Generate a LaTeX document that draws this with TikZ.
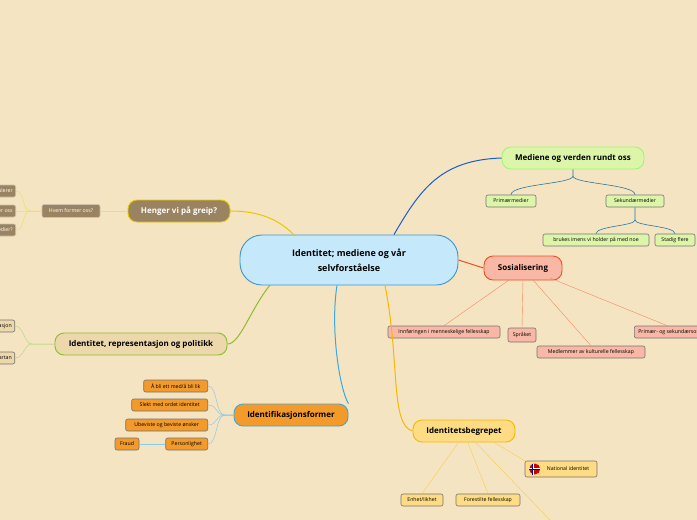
\documentclass[tikz,border=0pt]{standalone}
\usepackage{fontspec}
\setmainfont{Open Sans}
\usetikzlibrary{calc}
\begin{document}
\begin{tikzpicture}[x=1pt,y=-1pt,
 main/.style={draw,line width=0.9pt,rounded corners=9pt,font=\fontsize{8}{9}\selectfont\bfseries,inner sep=0pt},
 sub/.style={draw=#1,line width=0.6pt,rounded corners=2pt,font=\fontsize{5.2}{6}\selectfont,inner sep=0pt,minimum height=12},
 sub/.default={black!55},
 clip/.style={anchor=east,inner xsep=3pt}]
\useasboundingbox[fill={rgb,255:red,245;green,228;blue,194}] (0,0) rectangle (697,520);
\definecolor{cb}{RGB}{21,96,200}\definecolor{cs}{RGB}{240,80,32}\definecolor{ch}{RGB}{230,200,0}
\definecolor{cr}{RGB}{140,188,48}\definecolor{ci}{RGB}{58,169,224}\definecolor{cy}{RGB}{246,184,0}
\definecolor{fg}{RGB}{221,245,168}\definecolor{fs}{RGB}{249,184,165}\definecolor{fb}{RGB}{154,131,96}
\definecolor{fr}{RGB}{236,216,170}\definecolor{fo}{RGB}{243,154,42}\definecolor{fy}{RGB}{254,220,132}
% center
\node[main,draw={rgb,255:red,58;green,149;blue,213},fill={rgb,255:red,197;green,233;blue,251},rounded corners=22pt,minimum width=218,minimum height=50,align=center,font=\fontsize{9}{15}\selectfont\bfseries] (c) at (349,260) {Identitet; mediene og vår\\selvforståelse};
% Mediene
\node[main,draw=fg!70!green,fill=fg,minimum width=142,minimum height=22] (m) at (573,158) {Mediene og verden rundt oss};
\node[sub,fill=fg,minimum width=50] (m1) at (511,201) {Primærmedier};
\node[sub,fill=fg,minimum width=58] (m2) at (635,201) {Sekundærmedier};
\node[sub,fill=fg,minimum width=106] (m3) at (596,240) {brukes imens vi holder på med noe};
\node[sub,fill=fg,minimum width=40] (m4) at (675,240) {Stadig flere};
\draw[cb,line width=1pt] (c.north)++(45,0) .. controls (420,190) and (440,160) .. (m.west);
\draw[ci!70!black,line width=0.6pt] (m.south) -- (573,176) .. controls (573,184) and (511,184) .. (m1.north);
\draw[ci!70!black,line width=0.6pt] (573,176) .. controls (573,184) and (635,184) .. (m2.north);
\draw[ci!70!black,line width=0.6pt] (m2.south) -- (635,220) .. controls (635,226) and (596,226) .. (m3.north);
\draw[ci!70!black,line width=0.6pt] (635,220) .. controls (635,226) and (675,226) .. (m4.north);
% Sosialisering
\node[main,draw=cs,fill=fs,minimum width=78,minimum height=24] (s) at (523,268) {Sosialisering};
\node[sub,fill=fs,minimum width=112] (s1) at (444,332) {Innføringen i menneskelige fellesskap};
\node[sub,fill=fs,minimum width=28,minimum height=14] (s2) at (522,335) {Språket};
\node[sub,fill=fs,minimum width=108] (s3) at (591,352) {Medlemmer av kulturelle fellesskap};
\node[sub,fill=fs,anchor=west,inner xsep=4pt] (s4) at (634,332) {Primær- og sekundærsosialisering};
\draw[cs,line width=1pt] (c.east) -- (s.west);
\begin{scope}[cs!70,line width=0.4pt]
\draw (509,280) -- (s1.north); \draw (523,280) -- (s2.north); \draw (533,280) -- (s3.north); \draw (550,278) -- (668,326);
\end{scope}
% Henger
\node[main,draw=ch,fill=fb,text=white,minimum width=102,minimum height=22] (h) at (179,211) {Henger vi på greip?};
\node[sub=fb!50,fill=fb,text=white,minimum width=58,minimum height=13] (h1) at (71,211) {Hvem former oss?};
\node[sub=fb!50,fill=fb,text=white,clip] (h2) at (16,191) {Medier som manipulerer};
\node[sub=fb!50,fill=fb,text=white,clip] (h3) at (16,211) {Hva påvirker oss};
\node[sub=fb!50,fill=fb,text=white,clip] (h4) at (16,230) {Hvem styrer mediene og medier?};
\draw[ch,line width=1pt] (h.east) .. controls (260,211) and (280,220) .. (295,236);
\draw[ch!60,line width=0.5pt] (h.west) -- (h1.east);
\foreach \n in {h2,h3,h4} \draw[ch!60,line width=0.5pt] (h1.west) -- (30,211) .. controls (22,211) and (25,0|-\n.east) .. (\n.east);
% Identitet repr
\node[main,draw=cr,fill=fr,minimum width=172,minimum height=22] (r) at (141,344) {Identitet, representasjon og politikk};
\node[sub,fill=fr,clip] (r1) at (15,326) {Representasjon};
\node[sub,fill=fr,clip] (r2) at (15,358) {Spartan};
\draw[cr,line width=1pt] (r.east) .. controls (240,344) and (250,310) .. (270,285);
\foreach \n in {r1,r2} \draw[cr!60,line width=0.5pt] (r.west) -- (32,344) .. controls (24,344) and (24,0|-\n.east) .. (\n.east);
% Identifikasjonsformer
\node[main,draw=ci,fill=fo,minimum width=114,minimum height=22] (i) at (291,415) {Identifikasjonsformer};
\node[sub,fill=fo,anchor=east,minimum width=64] (i1) at (208,386) {Å bli ett med/å bli lik};
\node[sub,fill=fo,anchor=east,minimum width=76] (i2) at (208,405) {Slekt med ordet identitet};
\node[sub,fill=fo,anchor=east,minimum width=82] (i3) at (208,425) {Ubeviste og beviste ønsker};
\node[sub,fill=fo,anchor=east,minimum width=42] (i4) at (208,444) {Personlighet};
\node[sub,fill=fo,minimum width=24] (i5) at (127,444) {Fraud};
\draw[ci,line width=1pt] (c.south)++(-12,0) .. controls (330,330) and (340,390) .. (i.north east);
\foreach \n in {i1,i2,i3,i4} \draw[ci!60,line width=0.5pt] (i.west) -- (225,415) .. controls (215,415) and (218,0|-\n.east) .. (\n.east);
\draw[ci!60,line width=0.5pt] (i4.west) -- (i5.east);
% Identitetsbegrepet
\node[sub,fill=fy,minimum width=72,minimum height=16,inner xsep=4pt] (y1) at (561,469) {\hspace{14pt}National identitet};
\fill[red!80!black] ($(y1.west)+(10,0)$) circle (5.5);
\draw[white,line width=1.6pt] ($(y1.west)+(8,-5.5)$) -- ++(0,11) ($(y1.west)+(4.5,0)$) -- ++(11,0);
\draw[blue!60!black,line width=0.8pt] ($(y1.west)+(8,-5.5)$) -- ++(0,11) ($(y1.west)+(4.5,0)$) -- ++(11,0);
\node[main,draw=cy,fill=fy,minimum width=102,minimum height=22] (y) at (464,431) {Identitetsbegrepet};
\node[sub,fill=fy,minimum width=42] (y2) at (422,500) {Enhet/likhet};
\node[sub,fill=fy,minimum width=64] (y3) at (488,500) {Forestilte fellesskap};
\draw[cy,line width=1pt] (c.south)++(36,0) .. controls (400,360) and (390,425) .. (y.west);
\begin{scope}[cy!70,line width=0.4pt]
\draw (495,443) -- (y1.north west); \draw (458,443) -- (y2.north); \draw (468,443) -- (y3.north); \draw (476,443) -- (550,520);
\end{scope}
\end{tikzpicture}
\end{document}
